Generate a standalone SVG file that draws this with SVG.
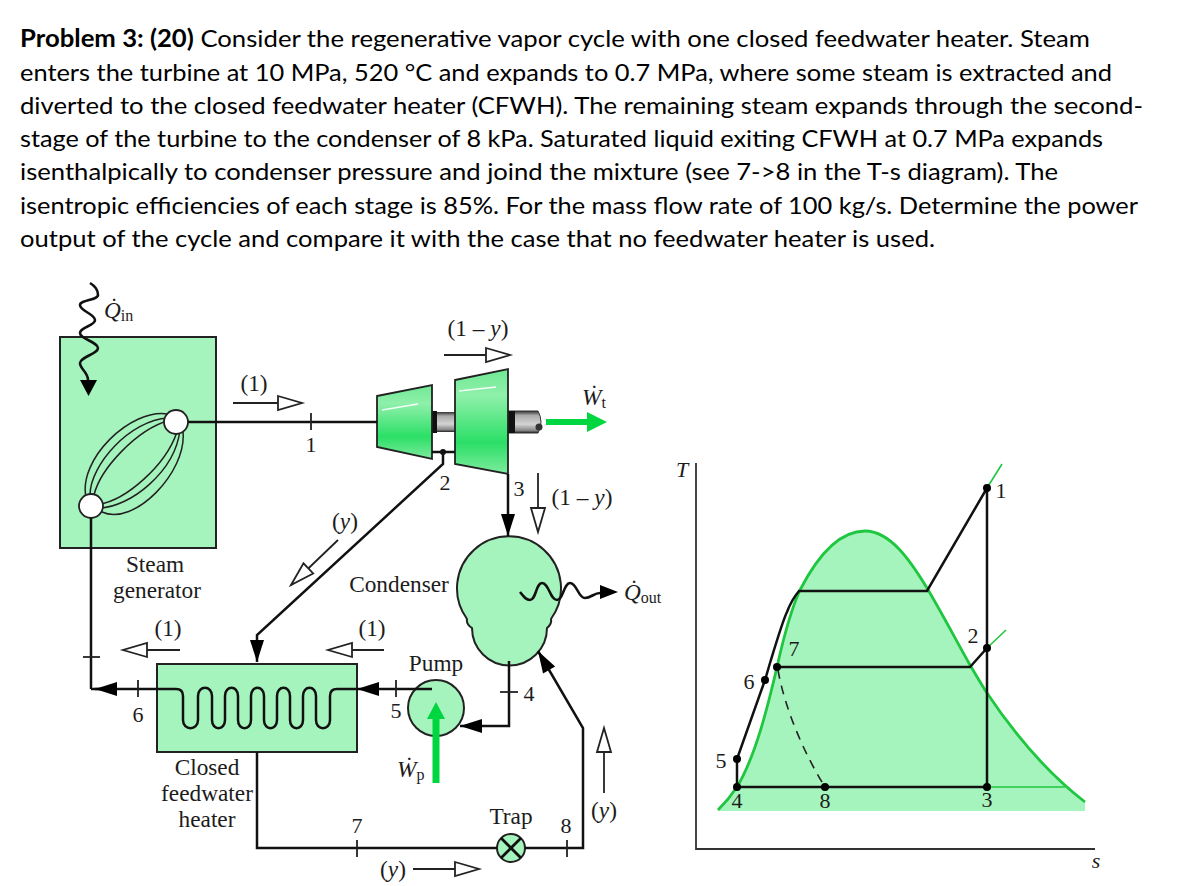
<svg xmlns="http://www.w3.org/2000/svg" width="1178" height="886" viewBox="0 0 1178 886">
<style>
.h{font-family:"Lato","Noto Sans",sans-serif;font-size:24px;fill:#000}
.b{font-weight:700}
.l{font-family:"Liberation Serif",serif;font-size:23.300px;fill:#1c1c1c}
.n{font-family:"Liberation Serif",serif;font-size:22px;fill:#1c1c1c;text-anchor:middle}
.c{text-anchor:middle}
.i{font-style:italic}
.s{font-size:16px}
.box{fill:#a6f4bd;stroke:#222;stroke-width:2}
.w{fill:none;stroke:#111;stroke-width:2.500}
.t{fill:none;stroke:#222;stroke-width:1.500}
.o{fill:none;stroke:#222;stroke-width:1.800}
.g{fill:none;stroke:#1fc63f;stroke-width:2.800}
.v{fill:#000}
</style>
<defs>
<marker id="fh" markerUnits="userSpaceOnUse" markerWidth="24" markerHeight="16" refX="22" refY="7" orient="auto" overflow="visible"><path d="M0,0L22,7L0,14Z" fill="#000"/></marker>
<marker id="oh" markerUnits="userSpaceOnUse" markerWidth="26" markerHeight="16" refX="24" refY="7" orient="auto" overflow="visible"><path d="M0,0L24,7L0,14Z" fill="#fff" stroke="#222" stroke-width="1.800"/></marker>
<linearGradient id="tg" x1="0" y1="0" x2="0" y2="1"><stop offset="0" stop-color="#6fe893"/><stop offset=".25" stop-color="#8ff0aa"/><stop offset=".7" stop-color="#2bdf66"/><stop offset="1" stop-color="#7eeb9e"/></linearGradient>
<linearGradient id="sg" x1="0" y1="0" x2="0" y2="1"><stop offset="0" stop-color="#333"/><stop offset=".2" stop-color="#aaa"/><stop offset=".6" stop-color="#d4d4d4"/><stop offset=".88" stop-color="#888"/><stop offset="1" stop-color="#222"/></linearGradient>
</defs>
<rect width="1178" height="886" fill="#fff"/>
<g id="problem-text">
<text class="h" x="20" y="47" textLength="1070" lengthAdjust="spacingAndGlyphs"><tspan class="b">Problem 3: (20)</tspan> Consider the regenerative vapor cycle with one closed feedwater heater. Steam</text>
<text class="h" x="20" y="80.500" textLength="1092" lengthAdjust="spacingAndGlyphs">enters the turbine at 10 MPa, 520 °C and expands to 0.7 MPa, where some steam is extracted and</text>
<text class="h" x="20" y="114" textLength="1123" lengthAdjust="spacingAndGlyphs">diverted to the closed feedwater heater (CFWH). The remaining steam expands through the second-</text>
<text class="h" x="20" y="147" textLength="1083" lengthAdjust="spacingAndGlyphs">stage of the turbine to the condenser of 8 kPa. Saturated liquid exiting CFWH at 0.7 MPa expands</text>
<text class="h" x="20" y="180" textLength="1038" lengthAdjust="spacingAndGlyphs">isenthalpically to condenser pressure and joind the mixture (see 7->8 in the T-s diagram). The</text>
<text class="h" x="20" y="214" textLength="1118" lengthAdjust="spacingAndGlyphs">isentropic efficiencies of each stage is 85%. For the mass flow rate of 100 kg/s. Determine the power</text>
<text class="h" x="20" y="247" textLength="915" lengthAdjust="spacingAndGlyphs">output of the cycle and compare it with the case that no feedwater heater is used.</text>
</g>
<g id="steam-generator">
<rect class="box" x="60" y="337" width="156" height="211"/>
<path class="t" d="M86,497C78,460 130,408 168,414M90,495C90,465 130,420 168,418M94,495C100,470 135,430 170,420M102,512C134,527 187,472 183,432M100,508C130,507 175,472 180,430M100,504C125,500 165,467 177,432"/>
<circle cx="176" cy="422" r="12" fill="#fff" stroke="#222" stroke-width="1.800"/>
<circle cx="91" cy="506" r="12" fill="#fff" stroke="#222" stroke-width="1.800"/>
<text class="l c" x="155" y="572">Steam</text>
<text class="l c" x="157" y="598">generator</text>
</g>
<g id="turbine">
<rect x="432" y="412" width="23" height="20" fill="url(#sg)"/>
<rect x="432" y="411" width="5" height="22" fill="#111"/>
<path d="M508,411H538Q544,422 538,433H508Z" fill="url(#sg)" stroke="#333" stroke-width="1"/>
<rect x="508" y="411" width="7" height="22" fill="#111"/>
<circle cx="539" cy="427" r="3.500" fill="#333"/>
<path d="M377,396L432,385V459L377,447Z" fill="url(#tg)" stroke="#222" stroke-width="1.800"/>
<path d="M455,380L508,369V474L455,464Z" fill="url(#tg)" stroke="#222" stroke-width="1.800"/>
<path d="M382,410L418,404M459,391L496,387" stroke="#fff" stroke-width="1.600" opacity=".9" fill="none"/>
</g>
<g id="condenser">
<path class="box" d="M467,619A52,52 0 1 1 551,619Q552,624 547,628A37.500,37.500 0 0 1 472,628Q466,624 467,619Z"/>
<text class="l c" x="399" y="592">Condenser</text>
</g>
<g id="pump">
<circle class="box" cx="436" cy="708" r="28"/>
<text class="l c" x="436" y="671">Pump</text>
</g>
<g id="closed-feedwater-heater">
<rect class="box" x="157" y="664" width="200" height="88"/>
<text class="l c" x="207" y="775">Closed</text>
<text class="l c" x="207" y="801">feedwater</text>
<text class="l c" x="207" y="827">heater</text>
</g>
<g id="trap">
<circle class="box" cx="511" cy="848" r="14"/>
<path d="M501,838L521,858M521,838L501,858" stroke="#111" stroke-width="2.800"/>
<text class="l c" x="511" y="824">Trap</text>
</g>
<g id="connectors">
<path class="w" d="M188,422H377"/>
<path class="o" d="M311,413V430"/>
<path class="w" d="M432,452H455M443,452V464L257,635V662" marker-end="url(#fh)"/>
<circle cx="443" cy="452" r="3" fill="#111"/>
<path class="w" d="M508,474V536" marker-end="url(#fh)"/>
<path class="w" d="M91,518V689"/>
<path class="o" d="M83,657H100"/>
<path class="w" d="M91,689H157"/>
<path class="w" d="M116,689H95" marker-end="url(#fh)"/>
<path class="o" d="M138,680V697"/>
<path class="w" d="M157,689H176Q183,689 183,696V720C183,731 198,731 198,720V696C198,685 212,685 212,696V720C212,731 225,731 225,720V696C225,685 238,685 238,696V720C238,731 251,731 251,720V696C251,685 264,685 264,696V720C264,731 277,731 277,720V696C277,685 290,685 290,696V720C290,731 303,731 303,720V696C303,685 316,685 316,696V720C316,731 330,731 330,720V696Q330,689 337,689H357"/>
<path class="w" d="M432,689H357" marker-end="url(#fh)"/>
<path class="o" d="M396,680V697"/>
<path class="w" d="M509,661V726H460" marker-end="url(#fh)"/>
<path class="o" d="M500,692H518"/>
<path class="w" d="M257,752V848H497"/>
<path class="o" d="M357,840V857"/>
<path class="w" d="M525,848H583V728L538,651" marker-end="url(#fh)"/>
<path class="o" d="M567,840V857"/>
</g>
<g id="flow-arrows">
<path class="o" d="M233,403H302" marker-end="url(#oh)"/>
<path class="o" d="M444,355H510" marker-end="url(#oh)"/>
<path class="o" d="M538,473V532" marker-end="url(#oh)"/>
<path class="o" d="M338,540L291,585" marker-end="url(#oh)"/>
<path class="o" d="M180,650H123" marker-end="url(#oh)"/>
<path class="o" d="M384,650H328" marker-end="url(#oh)"/>
<path class="o" d="M604,793V728" marker-end="url(#oh)"/>
<path class="o" d="M413,869H479" marker-end="url(#oh)"/>
</g>
<g id="energy-flows">
<path fill="none" stroke="#111" stroke-width="2.600" d="M90,283C95,286 98,290 98,295C98,300 80,300 80,305C80,311 95,314 95,320C95,326 80,327 80,333C80,339 98,342 98,348C98,354 80,357 80,363C80,369 88,372 88,380"/>
<path class="v" d="M80,380H97L88.500,396Z"/>
<path fill="none" stroke="#111" stroke-width="2.600" d="M520,592C524,597 526,600 530,600C536,600 536,583 542,583C549,583 550,600 557,600C563,600 564,583 570,583C577,583 578,598 585,598C591,598 594,593 600,593"/>
<path class="v" d="M600,585L618,592L600,599Z"/>
<path d="M546,419H587V412L607,422L587,432V425H546Z" fill="#00d640"/>
<path d="M432.500,783V719H427L436,702L445,719H439.500V783Z" fill="#00d640"/>
</g>
<g id="labels">
<text class="l i" x="104" y="318">Q̇<tspan class="s" font-style="normal" dy="3">in</tspan></text>
<text class="l c" x="254" y="391">(1)</text>
<text class="l c" x="478" y="336">(1 – <tspan class="i">y</tspan>)</text>
<text class="l c" x="345" y="529">(<tspan class="i">y</tspan>)</text>
<text class="l c" x="582" y="505">(1 – <tspan class="i">y</tspan>)</text>
<text class="l c" x="168" y="636">(1)</text>
<text class="l c" x="372" y="636">(1)</text>
<text class="l c" x="604" y="818">(<tspan class="i">y</tspan>)</text>
<text class="l c" x="393" y="877">(<tspan class="i">y</tspan>)</text>
<text class="l i" x="582" y="405">Ẇ<tspan class="s" font-style="normal" dy="3">t</tspan></text>
<text class="l i" x="397" y="777">Ẇ<tspan class="s" font-style="normal" dy="3">p</tspan></text>
<text class="l i" x="624" y="600">Q̇<tspan class="s" font-style="normal" dy="3">out</tspan></text>
<text class="n" x="311" y="452">1</text>
<text class="n" x="445" y="490">2</text>
<text class="n" x="519" y="496">3</text>
<text class="n" x="529" y="701">4</text>
<text class="n" x="396" y="718">5</text>
<text class="n" x="138" y="722">6</text>
<text class="n" x="357" y="833">7</text>
<text class="n" x="566" y="833">8</text>
</g>
<g id="ts-diagram">
<path d="M718,811C728,800 733,793 737,787C755,757 767,710 777,667C783,640 790,612 800,590C818,555 840,531 865,531C890,531 910,560 927,588C943,615 957,642 970,665C976,675 981,684 987,693C1015,735 1050,775 1085,802V811Z" fill="#a6f4bd"/>
<path class="g" d="M718,810C728,800 733,793 737,787C755,757 767,710 777,667C783,640 790,612 800,590C818,555 840,531 865,531C890,531 910,560 927,588C943,615 957,642 970,665C976,675 981,684 987,693C1015,735 1050,775 1085,802"/>
<path fill="none" stroke="#1fc63f" stroke-width="1.600" d="M987,787H1065M987,488L1002,464M987,648L1006,630"/>
<path d="M696,463V849H1095" fill="none" stroke="#333" stroke-width="1.800"/>
<path class="w" d="M737,787V759L765,680L770,663C777,640 783,620 787,612C790,604 794,597 799,591H927L987,488V787H737M777,667H970L987,648"/>
<path fill="none" stroke="#222" stroke-width="1.600" stroke-dasharray="9,7" d="M778,670C785,710 805,755 825,787"/>
<g fill="#000"><circle cx="987" cy="488" r="4"/><circle cx="987" cy="648" r="4"/><circle cx="987" cy="787" r="4"/><circle cx="737" cy="787" r="4"/><circle cx="737" cy="759" r="4"/><circle cx="765" cy="680" r="4"/><circle cx="777" cy="667" r="4"/><circle cx="825" cy="787" r="4"/></g>
<text class="n i" x="682" y="477">T</text>
<text class="n i" x="1096" y="868">s</text>
<text class="n" x="1001" y="498">1</text>
<text class="n" x="973" y="643">2</text>
<text class="n" x="987" y="807">3</text>
<text class="n" x="737" y="808">4</text>
<text class="n" x="721" y="768">5</text>
<text class="n" x="749" y="689">6</text>
<text class="n" x="794" y="656">7</text>
<text class="n" x="825" y="808">8</text>
</g>
</svg>
